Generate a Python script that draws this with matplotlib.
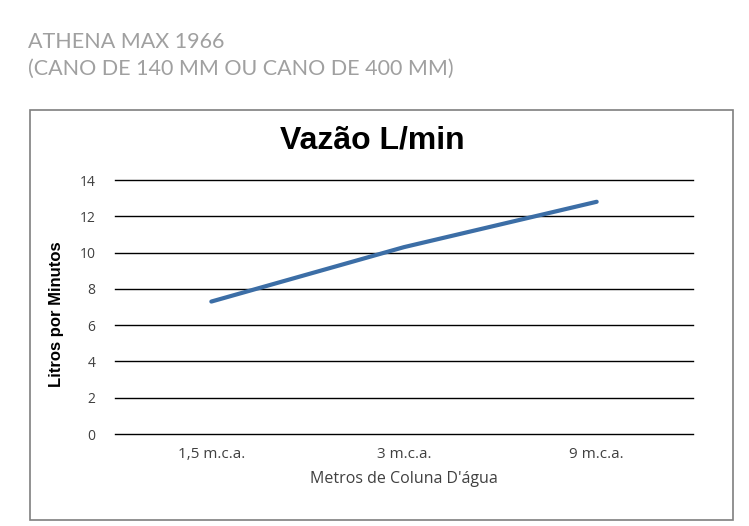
import matplotlib.pyplot as plt
from matplotlib.patches import Rectangle

# dados do gráfico
categorias = ['1,5 m.c.a.', '3 m.c.a.', '9 m.c.a.']
vazao = [7.3, 10.3, 12.8]
yticks = [0, 2, 4, 6, 8, 10, 12, 14]

fig = plt.figure(figsize=(7.49, 5.26), dpi=100)

# cabeçalho
fig.text(28 / 749, 1 - 48 / 526, 'ATHENA MAX 1966', fontsize=15.5, color='#a0a0a0',
         family='Lato', va='baseline')
fig.text(28 / 749, 1 - 75 / 526, '(CANO DE 140 MM OU CANO DE 400 MM)', fontsize=15.5,
         color='#a0a0a0', family='Lato', va='baseline')

# moldura do gráfico
fig.patches.append(Rectangle((30 / 749, 1 - 520 / 526), 703 / 749, 410 / 526,
                             transform=fig.transFigure, fill=False,
                             edgecolor='#7f7f7f', linewidth=1.2))

ax = fig.add_axes([115 / 749, 1 - 434 / 526, 578 / 749, 254 / 526])
x = range(len(categorias))
for v in yticks:
    ax.axhline(v, color='black', linewidth=1, clip_on=False, zorder=1)
ax.plot(x, vazao, color='#3c6ea6', linewidth=3, solid_capstyle='round', zorder=3)

ax.set_xlim(-0.5, len(categorias) - 0.5)
ax.set_ylim(0, 14)
ax.set_yticks(yticks)
ax.set_xticks(list(x))
ax.set_xticklabels(categorias)
for s in ax.spines.values():
    s.set_visible(False)
ax.tick_params(length=0, labelcolor='#404040')
ax.tick_params(axis='y', pad=14, labelsize=10)
ax.tick_params(axis='x', pad=9, labelsize=11)
for lbl in ax.get_xticklabels() + ax.get_yticklabels():
    lbl.set_family('Open Sans')

ax.set_xlabel("Metros de Coluna D'água", fontsize=11.5, color='#404040',
              family='Open Sans', labelpad=7)
fig.text(57 / 749, 1 - 314 / 526, 'Litros por Minutos', rotation=90, fontsize=12,
         fontweight='bold', family='Liberation Sans', ha='center', va='center')
fig.text(372 / 749, 1 - 140 / 526, 'Vazão L/min', fontsize=23, fontweight='bold',
         family='Liberation Sans', ha='center', va='center')

fig.savefig('out.png', dpi=100)
